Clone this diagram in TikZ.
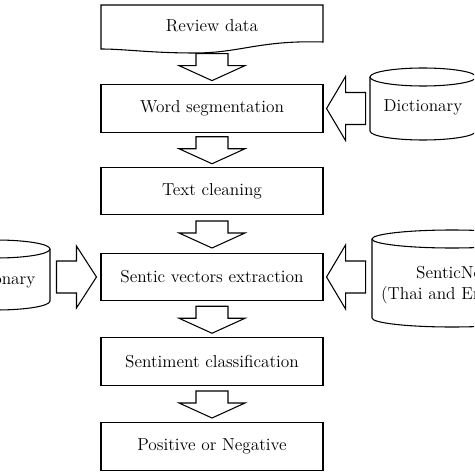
\documentclass[tikz,border=0pt]{standalone}
\usepackage{tikz}
\usetikzlibrary{calc}

\begin{document}
\begin{tikzpicture}[x=0.75pt,y=0.75pt,yscale=-1,xscale=1,line width=0.8pt,
    box/.style={draw, minimum width=166.5pt, minimum height=35.6pt, inner sep=0pt, font=\fontsize{13}{16}\selectfont},
    txt/.style={inner sep=0.75pt, align=center, font=\fontsize{13}{16}\selectfont}]
        \useasboundingbox (0,0) rectangle (474,474);
        \clip (0,0) rectangle (474,474);

        \draw   (101,5) -- (323,5) -- (323,42) .. controls (260,40) and (240,53) .. (195,53) .. controls (150,53) and (125,49) .. (101,49) -- cycle ;
        \node[txt] (review) at (212,26) {Review data};
        \coordinate (reviewend) at (212,49);
        \node[box] (word) at (212,108.5) {Word segmentation};
        \node[box] (clean) at (212,191) {Text cleaning};
        \node[box] (sentic) at (212,277) {Sentic vectors extraction};
        \node[box] (classif) at (212,361.5) {Sentiment classification};
        \node[box] (result) at (212,446.5) {Positive or Negative};

        \draw   (423,77) ellipse [x radius=53, y radius=9];
        \draw   (370,77) -- (370,131) .. controls (370,136) and (394,140) .. (423,140) .. controls (452,140) and (476,136) .. (476,131) -- (476,77) ;
        \node[txt] (dictr) at (423,107) {Dictionary};

        \draw   (-4,249) ellipse [x radius=54, y radius=9];
        \draw   (-58,249) -- (-58,301) .. controls (-58,306) and (-34,310) .. (-4,310) .. controls (26,310) and (50,306) .. (50,301) -- (50,249) ;
        \node[txt] (dictl) at (-4,280) {Dictionary};

        \draw   (452,239) ellipse [x radius=80, y radius=9];
        \draw   (372,239) -- (372,318) .. controls (372,323) and (408,327) .. (452,327) .. controls (496,327) and (532,323) .. (532,318) -- (532,239) ;
        \node[txt] (senticnet) at (452,285) {SenticNet\\(Thai and English)};

        \draw   ($(reviewend)!0.5!(word.north)$) ++(-16,-13) -- ++(32,0) -- ++(0,12) -- ++(17,0) -- ++(-33,15) -- ++(-33,-15) -- ++(17,0) -- cycle ;
        \draw   ($(word.south)!0.5!(clean.north)$) ++(-16,-13) -- ++(32,0) -- ++(0,12) -- ++(17,0) -- ++(-33,15) -- ++(-33,-15) -- ++(17,0) -- cycle ;
        \draw   ($(clean.south)!0.5!(sentic.north)$) ++(-16,-13) -- ++(32,0) -- ++(0,12) -- ++(17,0) -- ++(-33,15) -- ++(-33,-15) -- ++(17,0) -- cycle ;
        \draw   ($(sentic.south)!0.5!(classif.north)$) ++(-16,-13) -- ++(32,0) -- ++(0,12) -- ++(17,0) -- ++(-33,15) -- ++(-33,-15) -- ++(17,0) -- cycle ;
        \draw   ($(classif.south)!0.5!(result.north)$) ++(-16,-13) -- ++(32,0) -- ++(0,12) -- ++(17,0) -- ++(-33,15) -- ++(-33,-15) -- ++(17,0) -- cycle ;

        \draw   (word.east) ++(3,0) -- ++(19,-32) -- ++(0,16) -- ++(20,0) -- ++(0,32) -- ++(-20,0) -- ++(0,16) -- cycle ;
        \draw   (sentic.east) ++(3,0) -- ++(19,-32) -- ++(0,16) -- ++(20,0) -- ++(0,32) -- ++(-20,0) -- ++(0,16) -- cycle ;
        \draw   (sentic.west) ++(-4,0) -- ++(-20,-31) -- ++(0,15) -- ++(-20,0) -- ++(0,32) -- ++(20,0) -- ++(0,15) -- cycle ;
\end{tikzpicture}
\end{document}
